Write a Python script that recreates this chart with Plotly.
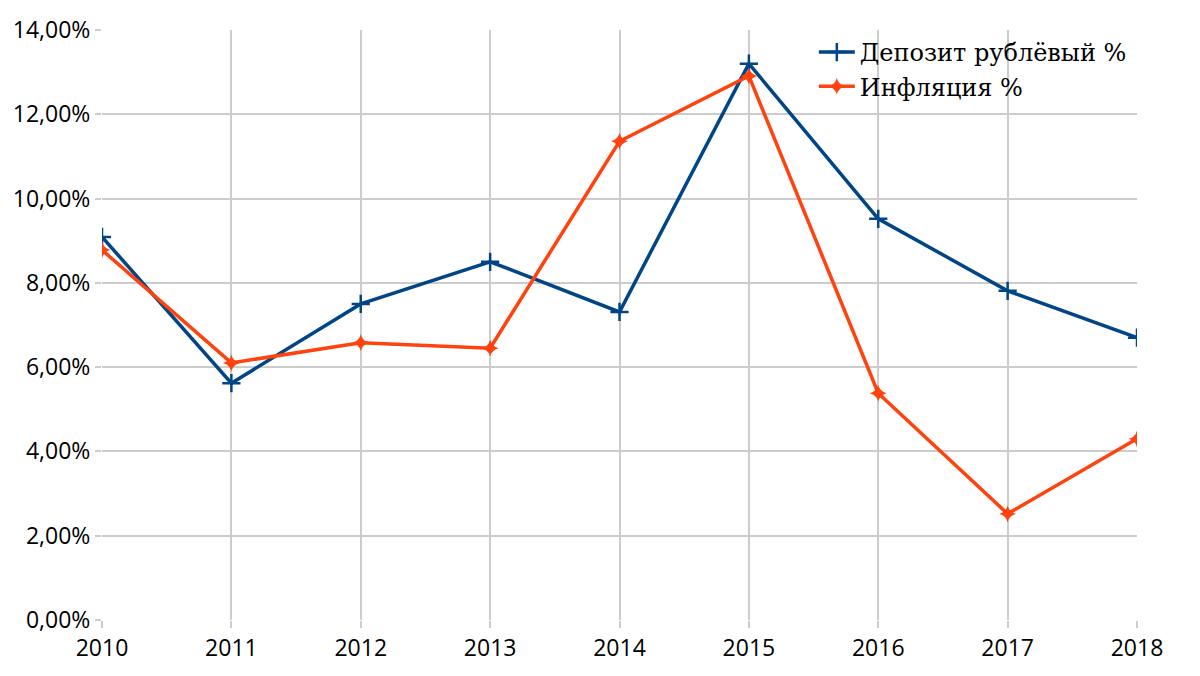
import plotly.graph_objects as go

years = [2010, 2011, 2012, 2013, 2014, 2015, 2016, 2017, 2018]
deposit = [9.09, 5.62, 7.50, 8.50, 7.31, 13.20, 9.52, 7.81, 6.70]
inflation = [8.78, 6.10, 6.58, 6.45, 11.36, 12.91, 5.38, 2.52, 4.30]
y_ticks = [0, 2, 4, 6, 8, 10, 12, 14]
y_tick_labels = [f"{v:.2f}".replace(".", ",") + "%" for v in y_ticks]

fig = go.Figure()
fig.add_trace(go.Scatter(
    x=years, y=deposit, name="Депозит рублёвый %", mode="lines+markers",
    line=dict(color="#004586", width=3.5),
    marker=dict(symbol="cross-thin", size=13, line=dict(color="#004586", width=2.5)),
))
fig.add_trace(go.Scatter(
    x=years, y=inflation, name="Инфляция %", mode="lines+markers",
    line=dict(color="#ff420e", width=3.5),
    marker=dict(symbol="star-diamond", size=12, color="#ff420e"),
))

grid = "#cccccc"
fig.update_layout(
    width=1200, height=676,
    margin=dict(l=102, r=63, t=30, b=56),
    paper_bgcolor="white", plot_bgcolor="white",
    font=dict(family="Open Sans", size=23, color="#000000"),
    showlegend=True,
    legend=dict(
        x=0.995, y=1.0, xanchor="right", yanchor="top",
        bgcolor="rgba(0,0,0,0)",
        font=dict(family="DejaVu Serif", size=24, color="#000000"),
        tracegroupgap=0, itemwidth=36,
    ),
    xaxis=dict(
        range=[2010, 2018], tickmode="array", tickvals=years,
        ticktext=[str(y) for y in years],
        showgrid=True, gridcolor=grid, gridwidth=1.5,
        ticks="outside", ticklen=7, tickcolor=grid, tickwidth=1.5,
        showline=False, zeroline=False,
    ),
    yaxis=dict(
        range=[0, 14], tickmode="array", tickvals=y_ticks, ticktext=y_tick_labels,
        showgrid=True, gridcolor=grid, gridwidth=1.5,
        ticks="outside", ticklen=6, tickcolor=grid, tickwidth=1.5,
        showline=False, zeroline=False,
    ),
)

fig.write_html("out.html", config={"displayModeBar": False},
               post_script="document.body.style.margin='0';")
